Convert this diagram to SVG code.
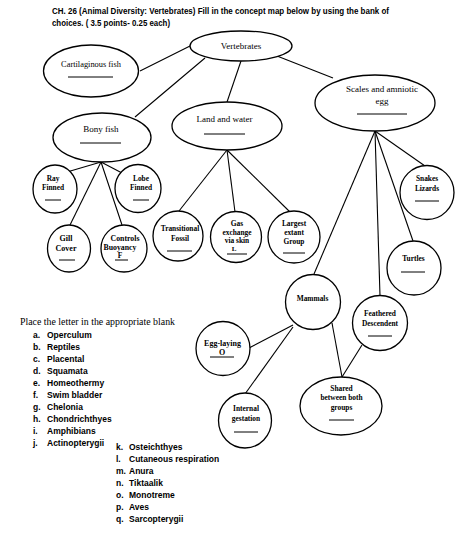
<svg xmlns="http://www.w3.org/2000/svg" width="461" height="544" viewBox="0 0 461 544">
<style>
.bg{fill:#fff}
.n{fill:#fff;stroke:#000;stroke-width:1.3}
.c line{stroke:#000;stroke-width:1.1}
.u{stroke:#000;stroke-width:1}
.t{font-family:"Liberation Serif","Times New Roman",serif;font-size:9px;fill:#000;text-anchor:middle}
.s{font-family:"Liberation Serif","Times New Roman",serif;font-size:7.4px;font-weight:bold;fill:#000;text-anchor:middle}
.h{font-family:"Liberation Sans",Arial,sans-serif;font-size:8.6px;font-weight:bold;fill:#000}
.l{font-family:"Liberation Sans",Arial,sans-serif;font-size:8.5px;font-weight:bold;fill:#000}
.p{font-family:"Liberation Serif","Times New Roman",serif;font-size:9.5px;fill:#000}
</style>
<rect class="bg" x="0" y="0" width="461" height="544"/>
<g id="title">
<text class="h" x="52" y="14" textLength="337" lengthAdjust="spacingAndGlyphs">CH. 26 (Animal Diversity: Vertebrates) Fill in the concept map below by using the bank of</text>
<text class="h" x="52" y="26" textLength="118" lengthAdjust="spacingAndGlyphs">choices. ( 3.5 points- 0.25 each)</text>
</g>
<g id="connectors" class="c">
<line x1="140" y1="71" x2="192" y2="45"/>
<line x1="205" y1="58" x2="135" y2="117"/>
<line x1="241" y1="61" x2="227" y2="102"/>
<line x1="277" y1="56" x2="333" y2="78"/>
<line x1="101" y1="162" x2="67" y2="172"/>
<line x1="101" y1="162" x2="122" y2="173"/>
<line x1="101" y1="162" x2="70" y2="225"/>
<line x1="101" y1="162" x2="122" y2="225"/>
<line x1="227" y1="150" x2="179" y2="211"/>
<line x1="227" y1="150" x2="235" y2="212"/>
<line x1="227" y1="150" x2="292" y2="214"/>
<line x1="375" y1="131" x2="425" y2="166"/>
<line x1="375" y1="131" x2="413" y2="241"/>
<line x1="375" y1="131" x2="380" y2="296"/>
<line x1="375" y1="131" x2="314" y2="274"/>
<line x1="293" y1="325" x2="249" y2="348"/>
<line x1="293" y1="327" x2="245" y2="394"/>
<line x1="332" y1="323" x2="342" y2="377"/>
<line x1="362" y1="345" x2="342" y2="377"/>
</g>
<g id="vertebrates">
<ellipse class="n" cx="241" cy="46" rx="51" ry="15"/>
<text class="t" x="241" y="48.5">Vertebrates</text>
</g>
<g id="cartilaginous">
<ellipse class="n" cx="91" cy="71" rx="47.5" ry="26"/>
<text class="t" x="91" y="67" style="font-size:8.4px">Cartilaginous fish</text>
<line class="u" x1="68" y1="77" x2="113" y2="77"/>
</g>
<g id="bony">
<ellipse class="n" cx="102" cy="137.5" rx="49" ry="24.5"/>
<text class="t" x="101" y="131.5">Bony fish</text>
<line class="u" x1="80" y1="143" x2="121" y2="143"/>
</g>
<g id="land">
<ellipse class="n" cx="227" cy="126" rx="55" ry="24"/>
<text class="t" x="224.5" y="122">Land and water</text>
<line class="u" x1="204" y1="134" x2="245" y2="134"/>
</g>
<g id="scales">
<ellipse class="n" cx="375" cy="103" rx="60" ry="28"/>
<text class="t" x="382" y="92">Scales and amniotic</text>
<text class="t" x="382" y="104">egg</text>
<line class="u" x1="357" y1="114" x2="407" y2="114"/>
</g>
<g id="ray">
<ellipse class="n" cx="55" cy="189" rx="22" ry="24"/>
<text class="s" x="53" y="181">Ray</text>
<text class="s" x="53" y="190">Finned</text>
<line class="u" x1="45" y1="200" x2="61" y2="200"/>
</g>
<g id="lobe">
<ellipse class="n" cx="138" cy="188.5" rx="23" ry="24"/>
<text class="s" x="141" y="181">Lobe</text>
<text class="s" x="141" y="190">Finned</text>
<line class="u" x1="133" y1="200" x2="149" y2="200"/>
</g>
<g id="gill">
<ellipse class="n" cx="69" cy="248.5" rx="21.5" ry="23.5"/>
<text class="s" x="66" y="241" style="font-size:8px">Gill</text>
<text class="s" x="66" y="251" style="font-size:8px">Cover</text>
<line class="u" x1="59" y1="260" x2="75" y2="260"/>
</g>
<g id="buoyancy">
<ellipse class="n" cx="124" cy="248.5" rx="23" ry="23.5"/>
<text class="s" x="125" y="240.5" style="font-size:7.8px">Controls</text>
<text class="s" x="120" y="250" style="font-size:7.8px">Buoyancy</text>
<text class="s" x="120" y="258" style="font-size:7.4px">F</text>
<line class="u" x1="115" y1="260" x2="128" y2="260"/>
</g>
<g id="transitional">
<circle class="n" cx="178" cy="236" r="25"/>
<text class="s" x="180" y="231">Transitional</text>
<text class="s" x="180" y="241">Fossil</text>
<line class="u" x1="167" y1="251" x2="192" y2="251"/>
</g>
<g id="gas">
<circle class="n" cx="236" cy="237" r="25.5"/>
<text class="s" x="237" y="225.5">Gas</text>
<text class="s" x="237" y="234.5">exchange</text>
<text class="s" x="237" y="243">via skin</text>
<text class="s" x="234" y="251" style="font-size:7px">L</text>
<line class="u" x1="227" y1="254" x2="247" y2="254"/>
</g>
<g id="largest">
<circle class="n" cx="294" cy="237" r="26"/>
<text class="s" x="294" y="226">Largest</text>
<text class="s" x="294" y="235">extant</text>
<text class="s" x="294" y="244">Group</text>
<line class="u" x1="283" y1="253" x2="305" y2="253"/>
</g>
<g id="snakes">
<circle class="n" cx="427" cy="192.5" r="27"/>
<text class="s" x="427" y="181">Snakes</text>
<text class="s" x="427" y="191">Lizards</text>
<line class="u" x1="415" y1="201" x2="439" y2="201"/>
</g>
<g id="turtles">
<circle class="n" cx="414" cy="268" r="27"/>
<text class="s" x="413.5" y="261">Turtles</text>
<line class="u" x1="401" y1="272" x2="425" y2="272"/>
</g>
<g id="mammals">
<circle class="n" cx="313" cy="302" r="27.5"/>
<text class="s" x="312.5" y="301">Mammals</text>
</g>
<g id="feathered">
<circle class="n" cx="380" cy="323" r="27.5"/>
<text class="s" x="380" y="316">Feathered</text>
<text class="s" x="380" y="326">Descendent</text>
<line class="u" x1="368" y1="336" x2="392" y2="336"/>
</g>
<g id="egglaying">
<circle class="n" cx="223" cy="348.5" r="27"/>
<text class="s" x="222.5" y="346" style="font-size:8px">Egg-laying</text>
<text class="s" x="222" y="355" style="font-size:8px">O</text>
<line class="u" x1="210" y1="357" x2="234" y2="357"/>
</g>
<g id="internal">
<ellipse class="n" cx="245" cy="420.5" rx="26.5" ry="27.5"/>
<text class="s" x="246" y="411">Internal</text>
<text class="s" x="246" y="421">gestation</text>
<line class="u" x1="234" y1="432" x2="258" y2="432"/>
</g>
<g id="shared">
<ellipse class="n" cx="341" cy="406" rx="41" ry="29"/>
<text class="s" x="341.5" y="391">Shared</text>
<text class="s" x="341.5" y="400">between both</text>
<text class="s" x="341.5" y="410">groups</text>
<line class="u" x1="329" y1="420" x2="354" y2="420"/>
</g>
<g id="bank">
<text class="p" x="20" y="325" textLength="155" lengthAdjust="spacingAndGlyphs">Place the letter in the appropriate blank</text>
<g class="l">
<text x="33" y="337.5">a.</text><text x="47" y="337.5">Operculum</text>
<text x="33" y="349.5">b.</text><text x="47" y="349.5">Reptiles</text>
<text x="33" y="361.5">c.</text><text x="47" y="361.5">Placental</text>
<text x="33" y="373.5">d.</text><text x="47" y="373.5">Squamata</text>
<text x="33" y="385.5">e.</text><text x="47" y="385.5">Homeothermy</text>
<text x="33" y="397.5">f.</text><text x="47" y="397.5">Swim bladder</text>
<text x="33" y="409.5">g.</text><text x="47" y="409.5">Chelonia</text>
<text x="33" y="421.5">h.</text><text x="47" y="421.5">Chondrichthyes</text>
<text x="33" y="433.5">i.</text><text x="47" y="433.5">Amphibians</text>
<text x="33" y="446">j.</text><text x="47" y="446">Actinopterygii</text>
<text x="116" y="450">k.</text><text x="129" y="450">Osteichthyes</text>
<text x="116" y="462">l.</text><text x="129" y="462">Cutaneous respiration</text>
<text x="116" y="474">m.</text><text x="129" y="474">Anura</text>
<text x="116" y="486">n.</text><text x="129" y="486">Tiktaalik</text>
<text x="116" y="498">o.</text><text x="129" y="498">Monotreme</text>
<text x="116" y="510">p.</text><text x="129" y="510">Aves</text>
<text x="116" y="522">q.</text><text x="129" y="522">Sarcopterygii</text>
</g>
</g>
</svg>
